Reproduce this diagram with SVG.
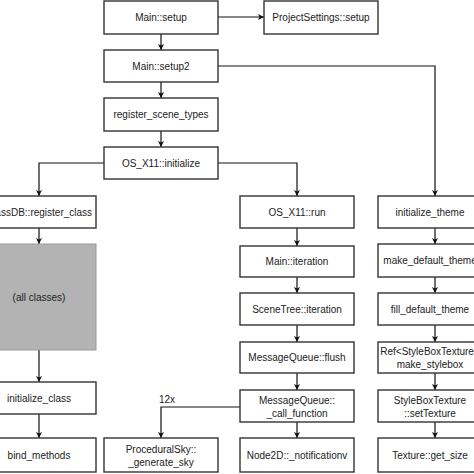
<svg xmlns="http://www.w3.org/2000/svg" width="474" height="474" viewBox="0 0 474 474">
<style>
.box{fill:#fff;stroke:#333;stroke-width:1.4}
.gray{fill:#b3b3b3;stroke:#999;stroke-width:1}
.t{font-family:"Liberation Sans",Arial,sans-serif;font-size:10px;fill:#222;text-anchor:middle;dominant-baseline:central}
.c{fill:none;stroke:#111;stroke-width:1.2;marker-end:url(#ah)}
</style>
<defs>
<marker id="ah" viewBox="0 0 10 10" refX="10" refY="5" markerWidth="6" markerHeight="6" markerUnits="userSpaceOnUse" orient="auto">
<path d="M0,0 L10,5 L0,10 L2.5,5 z" fill="#111"/>
</marker>
</defs>
<rect width="474" height="474" fill="#fff"/>
<g id="connectors">
<path class="c" d="M161,34 V50"/>
<path class="c" d="M218,17 H264"/>
<path class="c" d="M161,82 V98"/>
<path class="c" d="M161,131 V147"/>
<path class="c" d="M218,66 H435 V196"/>
<path class="c" d="M218,163 H297 V196"/>
<path class="c" d="M104,163 H39 V196"/>
<path class="c" d="M39,228 V244"/>
<path class="c" d="M39,350 V382"/>
<path class="c" d="M39,414 V438"/>
<path class="c" d="M297,228 V246"/>
<path class="c" d="M297,277 V293"/>
<path class="c" d="M297,325 V342"/>
<path class="c" d="M297,373 V390"/>
<path class="c" d="M297,422 V438"/>
<path class="c" d="M240,407 H161 V438"/>
<path class="c" d="M435,228 V244"/>
<path class="c" d="M435,277 V293"/>
<path class="c" d="M435,325 V342"/>
<path class="c" d="M435,373 V390"/>
<path class="c" d="M435,422 V438"/>
<text class="t" x="167" y="399">12x</text>
</g>
<g id="main_setup"><rect class="box" x="104" y="1" width="114" height="33"/><text class="t" x="161" y="17.5">Main::setup</text></g>
<g id="project_settings"><rect class="box" x="264" y="1" width="114" height="33"/><text class="t" x="321" y="17.5">ProjectSettings::setup</text></g>
<g id="main_setup2"><rect class="box" x="104" y="50" width="114" height="32"/><text class="t" x="161" y="66">Main::setup2</text></g>
<g id="register_scene_types"><rect class="box" x="104" y="98" width="114" height="33"/><text class="t" x="161" y="114.5">register_scene_types</text></g>
<g id="os_initialize"><rect class="box" x="104" y="147" width="114" height="32"/><text class="t" x="161" y="163">OS_X11::initialize</text></g>
<g id="classdb_register"><rect class="box" x="-18" y="196" width="114" height="32"/><text class="t" x="39" y="212">ClassDB::register_class</text></g>
<g id="all_classes"><rect class="gray" x="-18" y="244" width="114" height="106"/><text class="t" x="39" y="297">(all classes)</text></g>
<g id="initialize_class"><rect class="box" x="-18" y="382" width="114" height="32"/><text class="t" x="39" y="398">initialize_class</text></g>
<g id="bind_methods"><rect class="box" x="-18" y="438" width="114" height="34"/><text class="t" x="39" y="455">bind_methods</text></g>
<g id="procedural_sky"><rect class="box" x="104" y="438" width="114" height="34"/><text class="t" x="161" y="449">ProceduralSky::</text><text class="t" x="161" y="462">_generate_sky</text></g>
<g id="os_run"><rect class="box" x="240" y="196" width="114" height="32"/><text class="t" x="297" y="212">OS_X11::run</text></g>
<g id="main_iteration"><rect class="box" x="240" y="246" width="114" height="31"/><text class="t" x="297" y="261.5">Main::iteration</text></g>
<g id="scenetree_iteration"><rect class="box" x="240" y="293" width="114" height="32"/><text class="t" x="297" y="309">SceneTree::iteration</text></g>
<g id="mq_flush"><rect class="box" x="240" y="342" width="114" height="31"/><text class="t" x="297" y="357.5">MessageQueue::flush</text></g>
<g id="mq_call"><rect class="box" x="240" y="390" width="114" height="32"/><text class="t" x="297" y="400">MessageQueue::</text><text class="t" x="297" y="413">_call_function</text></g>
<g id="node2d"><rect class="box" x="240" y="438" width="114" height="34"/><text class="t" x="297" y="455">Node2D::_notificationv</text></g>
<g id="initialize_theme"><rect class="box" x="378" y="196" width="114" height="32"/><text class="t" x="430" y="212">initialize_theme</text></g>
<g id="make_default_theme"><rect class="box" x="378" y="244" width="114" height="33"/><text class="t" x="430" y="260.5">make_default_theme</text></g>
<g id="fill_default_theme"><rect class="box" x="378" y="293" width="114" height="32"/><text class="t" x="430" y="309">fill_default_theme</text></g>
<g id="make_stylebox"><rect class="box" x="378" y="342" width="114" height="31"/><text class="t" x="430" y="351">Ref&lt;StyleBoxTexture&gt;</text><text class="t" x="430" y="364">make_stylebox</text></g>
<g id="set_texture"><rect class="box" x="378" y="390" width="114" height="32"/><text class="t" x="430" y="400">StyleBoxTexture</text><text class="t" x="430" y="413">::setTexture</text></g>
<g id="get_size"><rect class="box" x="378" y="438" width="114" height="34"/><text class="t" x="430" y="455">Texture::get_size</text></g>
</svg>
